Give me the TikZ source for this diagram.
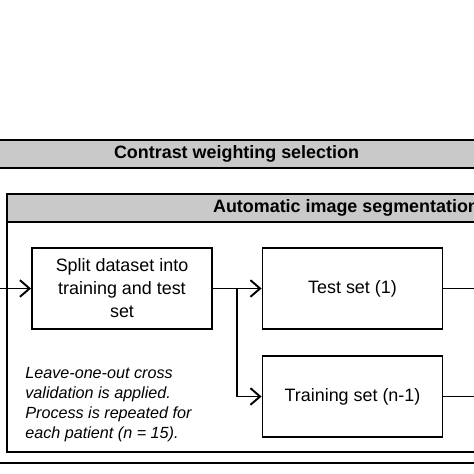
\documentclass[tikz,border=0pt]{standalone}
\usepackage{fontspec}
\setmainfont{Liberation Sans}
\usepackage{tikz}
\usetikzlibrary{arrows.meta}
\tikzset{
boxnodev1/.style={rectangle, draw=black!100,fill=white,line width=1.1pt, inner sep=0pt, minimum width= 3.6cm, minimum height= 1.62cm, align=center, font=\fontsize{10.2}{13.1}\selectfont},
headernodev1/.style={rectangle, draw=black!100,fill=black!21,line width=1.1pt, inner sep=0pt, minimum height= 0.56cm, font=\bfseries\fontsize{10.2}{13.1}\selectfont},
framev1/.style={draw=black!100,line width=1.1pt},
notenodev1/.style={anchor=west, inner sep=0pt, align=left, font=\itshape\fontsize{9.2}{11.4}\selectfont},
arrowv1/.style={line width=1.1pt,-{Straight Barb[length=5.5pt,width=9.5pt,line width=1.1pt]}},
}
\begin{document}
\begin{tikzpicture}[x=0.02cm,y=0.02cm]
    \useasboundingbox (0,0) rectangle (474,474);
    \clip (0,0) rectangle (474,474);
    % outer frame
    \draw[framev1] (-230,11) rectangle (703,334);
    \node[headernodev1, minimum width= 18.66cm] at (236.5,320) (contrast) {Contrast weighting selection};
    % inner frame
    \draw[framev1] (7,22) rectangle (685,280);
    \node[headernodev1, minimum width= 13.56cm] at (346,266) (segment) {Automatic image segmentation};
    \node[boxnodev1] at (122,185.5) (split) {Split dataset into\\training and test\\set};
    \node[boxnodev1] at (352.5,185.5) (test) {Test set (1)};
    \node[boxnodev1] at (352.5,77.5) (train) {Training set (n-1)};
    \node[notenodev1] at (25,69) (note) {Leave-one-out cross\\validation is applied.\\Process is repeated for\\each patient (n = 15).};
    \coordinate (in) at (-10,185.5);
    \coordinate (fork) at (237,185.5);
    \coordinate (testout) at (490,185.5);
    \coordinate (trainout) at (490,77.5);
    \draw[arrowv1] (in) to (split);
    \draw[arrowv1] (split) to (test);
    \draw[arrowv1] (fork) |- (train);
    \draw[framev1] (test) to (testout);
    \draw[framev1] (train) to (trainout);
\end{tikzpicture}
\end{document}
